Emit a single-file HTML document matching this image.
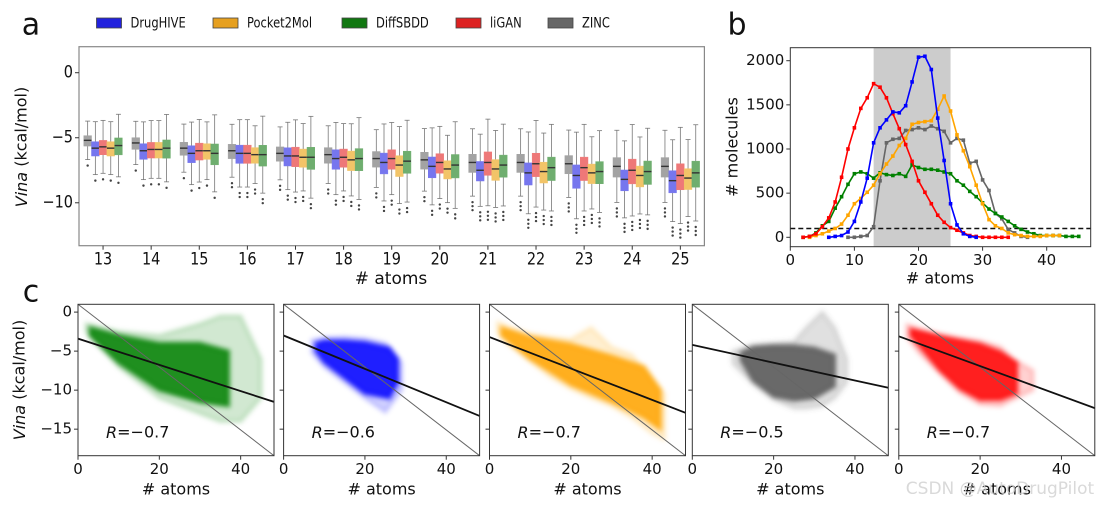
<!DOCTYPE html>
<html><head><meta charset="utf-8"><style>
html,body{margin:0;padding:0;background:#fff;}
svg{display:block;font-family:"DejaVu Sans","Liberation Sans",sans-serif;}
</style></head><body>
<svg id="fig" width="1109" height="506" viewBox="0 0 1109 506" xmlns="http://www.w3.org/2000/svg">
<defs><filter id="soft" x="-10%" y="-10%" width="120%" height="120%"><feGaussianBlur stdDeviation="2"/></filter></defs>
</svg>
<script>
// ---------- Panel a data ----------
const aGroups = [13,14,15,16,17,18,19,20,21,22,23,24,25];
const aSeriesNames = ["ZINC","DrugHIVE","liGAN","Pocket2Mol","DiffSBDD"];
const medZINC = [-5.2,-5.4,-5.8,-6.0,-6.2,-6.3,-6.6,-6.7,-6.9,-6.9,-7.0,-7.2,-7.2];
const medDrugHIVE = [-5.8,-6.0,-6.2,-6.2,-6.4,-6.6,-6.9,-7.2,-7.5,-7.7,-7.9,-8.2,-8.3];
const medLiGAN = [-5.7,-5.9,-6.0,-6.2,-6.4,-6.5,-6.6,-6.9,-6.9,-7.0,-7.3,-7.5,-7.9];
const medPocket2Mol = [-5.8,-5.9,-6.0,-6.3,-6.5,-6.7,-7.1,-7.4,-7.4,-7.6,-7.7,-7.9,-8.1];
const medDiffSBDD = [-5.6,-5.8,-6.2,-6.3,-6.5,-6.6,-6.8,-7.1,-7.1,-7.3,-7.6,-7.6,-7.7];
const iqrZINC = [0.8,0.9,1.0,1.1,1.1,1.2,1.2,1.3,1.4,1.4,1.4,1.5,1.5];
const iqrDrugHIVE = [1.1,1.2,1.3,1.4,1.4,1.5,1.6,1.6,1.5,1.7,1.8,1.6,1.7];
const iqrLiGAN = [1.1,1.2,1.3,1.4,1.5,1.4,1.5,1.5,1.8,1.8,1.8,1.9,2.0];
const iqrPocket2Mol = [1.1,1.2,1.2,1.2,1.4,1.5,1.6,1.4,1.6,1.6,1.5,1.6,1.6];
const iqrDiffSBDD = [1.3,1.4,1.6,1.6,1.7,1.7,1.7,1.8,1.7,1.8,1.7,1.8,2.0];
const aYTicks = [0,-5,-10];

// ---------- Panel b data ----------
const bRedX = [2,3,4,5,6,7,8,9,10,11,12,13,14,15,16,17,18,19,20,21,22,23,24,25,26,27,28,29,30,31,32,33,34];
const bRedY = [0,10,40,120,220,400,680,1000,1240,1460,1580,1740,1700,1580,1400,1230,1050,860,640,510,380,250,170,110,80,50,20,10,0,0,0,0,0];
const bBlueX = [6,7,8,9,10,11,12,13,14,15,16,17,18,19,20,21,22,23,24,25,26,27,28,29];
const bBlueY = [0,10,20,60,180,400,670,1070,1240,1330,1420,1410,1490,1760,2040,2050,1900,1350,870,380,140,40,10,0];
const bOrangeX = [3,4,5,6,7,8,9,10,11,12,13,14,15,16,17,18,19,20,21,22,23,24,25,26,27,28,29,30,31,32,33,34,35,36,37,38,39,40,41,42];
const bOrangeY = [0,20,40,70,100,150,250,380,440,510,590,720,830,920,1040,1120,1280,1300,1310,1320,1450,1600,1430,1160,980,800,590,380,200,130,100,50,30,20,10,10,10,20,20,20];
const bGrayX = [9,10,11,12,13,14,15,16,17,18,19,20,21,22,23,24,25,26,27,28,29,30,31,32,33,34,35,36,37];
const bGrayY = [0,0,10,20,120,640,1070,1110,1120,1210,1220,1240,1220,1260,1230,1200,1070,1120,1100,840,860,650,530,270,210,90,50,10,0];
const bGreenX = [2,3,4,5,6,7,8,9,10,11,12,13,14,15,16,17,18,19,20,21,22,23,24,25,26,27,28,29,30,31,32,33,34,35,36,37,38,39,40,41,42,43,44,45];
const bGreenY = [0,10,50,130,180,330,460,600,720,740,720,670,730,710,700,720,690,820,790,770,770,760,740,720,640,590,520,460,390,320,270,230,180,130,90,60,40,20,20,20,20,10,10,10];
const bXTicks = [0,10,20,30,40];
const bYTicks = [0,500,1000,1500,2000];
const bSpan = [13,25];
const bThreshold = 100;

// ---------- Panel c data ----------
const cNames = ["DiffSBDD","DrugHIVE","Pocket2Mol","ZINC","liGAN"];
const cR = ["−0.7","−0.6","−0.7","−0.5","−0.7"];
const cFitStart = [-3.4,-3.0,-3.2,-4.2,-3.1];
const cFitEnd = [-11.5,-13.3,-12.9,-9.7,-12.3];
const cXTicks = [0,20,40];
const cYTicks = [0,-5,-10,-15];
const cOuterX = [[2,10,20,30,35,40,45],[7,10,15,20,25,29],[2,5,10,15,20,25,30,35,40,43],[10,15,20,25,28,32,35,38],[2,5,10,15,20,25,28,33]];
const cOuterUp = [[-1.5,-2.5,-3,-1.5,-0.5,-0.5,-6],[-3.6,-3.3,-3.2,-3.4,-4,-6.5],[-1.3,-2,-2.8,-3.2,-3.5,-2,-4.5,-5.5,-8.5,-10.5],[-5,-4.2,-4,-3.8,-2,0,-2,-6],[-1.6,-2.1,-2.8,-3.3,-3.7,-4.5,-6,-7.5]];
const cOuterLo = [[-2.5,-7,-11,-13,-14,-14,-11],[-5.2,-7,-9,-11,-12.8,-10],[-2.6,-4.2,-6.3,-8.3,-9.8,-11,-12,-13.5,-15.5,-16.3],[-6.6,-9.2,-11.2,-12.3,-12.3,-12,-11,-9],[-3.1,-5.2,-7.8,-10.3,-11.8,-12,-11.2,-10]];
const cCoreX = [[3,10,20,30,37],[8,10,15,20,26,28],[3,10,20,30,38,42],[12,15,20,25,30,35],[3,10,15,20,25,29]];
const cCoreUp = [[-2,-3,-4,-4,-5],[-4,-3.7,-3.7,-3.9,-4.6,-6],[-2,-3.2,-4.1,-5.6,-7,-10],[-5.2,-4.5,-4.3,-4.3,-4.6,-5.5],[-2.2,-3.1,-3.6,-4.1,-5.1,-6.5]];
const cCoreLo = [[-3,-6.5,-10,-11.5,-12],[-5,-6.4,-8.4,-10.4,-11,-9],[-3,-6,-9.3,-11.5,-13.5,-15],[-6.2,-8.8,-10.8,-11.3,-11,-9.5],[-3,-7.4,-9.8,-11.2,-11.2,-10.4]];

const NS = "http://www.w3.org/2000/svg";
const svg = document.getElementById("fig");
function mk(tag, attrs, parent) {
  const e = document.createElementNS(NS, tag);
  for (const k in attrs) e.setAttribute(k, attrs[k]);
  (parent || svg).appendChild(e);
  return e;
}
function txt(s, x, y, size, anchor, parent, extra) {
  const t = mk("text", Object.assign({x:x, y:y, "font-size":size, "text-anchor":anchor||"middle", "dominant-baseline":"middle", fill:"#111"}, extra||{}), parent);
  t.textContent = s;
  return t;
}

// ================= Panel a =================
const A = {l:79, r:704.4, t:46.7, b:245.7, xmin:12.5, xmax:25.5, ymin:-13.3, ymax:2.0};
const ax = v => A.l + (v - A.xmin) / (A.xmax - A.xmin) * (A.r - A.l);
const ay = v => A.t + (A.ymax - v) / (A.ymax - A.ymin) * (A.b - A.t);
const gA = mk("g", {});


const pl = txt("a", 31, 26, 30, "middle", gA);



const aMeds = [medZINC, medDrugHIVE, medLiGAN, medPocket2Mol, medDiffSBDD];
const aIqrs = [iqrZINC, iqrDrugHIVE, iqrLiGAN, iqrPocket2Mol, iqrDiffSBDD];
const aFill = ["#a3a3a3","#7676ee","#ee7878","#f2c468","#6fae6f"];
const aOff = [-0.32,-0.16,0,0.16,0.32];
const bw = 0.16;
aGroups.forEach((g, gi) => {
  aMeds.forEach((meds, si) => {
    const m = meds[gi], iq = aIqrs[si][gi];
    const q3 = m + 0.45 * iq, q1 = m - 0.55 * iq;
    const wTop = q3 + 1.4 * iq, wBot = q1 - 1.3 * iq;
    const cx = g + aOff[si];
    const x0 = ax(cx - bw/2), x1 = ax(cx + bw/2), xc = ax(cx);
    const gb = mk("g", {}, gA);
    
    
    mk("line", {x1:xc, x2:xc, y1:ay(wTop), y2:ay(q3), stroke:"#777", "stroke-width":0.8}, gb);
    mk("line", {x1:xc, x2:xc, y1:ay(q1), y2:ay(wBot), stroke:"#777", "stroke-width":0.8}, gb);
    mk("line", {x1:xc-2.5, x2:xc+2.5, y1:ay(wTop), y2:ay(wTop), stroke:"#777", "stroke-width":0.8}, gb);
    mk("line", {x1:xc-2.5, x2:xc+2.5, y1:ay(wBot), y2:ay(wBot), stroke:"#777", "stroke-width":0.8}, gb);
    mk("rect", {x:x0, y:ay(q3), width:x1-x0, height:ay(q1)-ay(q3), fill:aFill[si], stroke:aFill[si], "stroke-width":0.5}, gb);
    mk("line", {x1:x0, x2:x1, y1:ay(m), y2:ay(m), stroke:"#333", "stroke-width":1.4}, gb);
    const n = 1 + Math.round((g - 13) / 5);
    for (let k = 0; k < n; k++) {
      mk("circle", {cx:xc, cy:ay(wBot) + 6 + k*4, r:1.2, fill:"#444"}, gb);
    }
  });
});
const aFrame = mk("rect", {x:A.l, y:A.t, width:A.r-A.l, height:A.b-A.t, fill:"none", stroke:"#888", "stroke-width":1.2}, gA);


aGroups.forEach(g => {
  mk("line", {x1:ax(g), x2:ax(g), y1:A.b, y2:A.b+4, stroke:"#333"}, gA);
  const t = txt(String(g), ax(g), A.b+14, 17, "middle", gA, {transform:"translate("+ax(g)+",0) scale(0.85,1) translate("+(-ax(g))+",0)"});
  
  
});
aYTicks.forEach(v => {
  mk("line", {x1:A.l-4, x2:A.l, y1:ay(v), y2:ay(v), stroke:"#333"}, gA);
  const t = txt(v === 0 ? "0" : "−" + Math.abs(v), A.l-6, ay(v), 17, "end", gA, {transform:"translate("+(A.l-6)+",0) scale(0.85,1) translate("+(-(A.l-6))+",0)"});
  
  
});
const axl = txt("# atoms", 391, 279, 17, "middle", gA);


const ayl = mk("text", {x:0, y:0, "font-size":16, "text-anchor":"middle", "dominant-baseline":"middle", fill:"#111", transform:"translate(22,147) rotate(-90)"}, gA);
ayl.innerHTML = '<tspan font-style="italic">Vina</tspan> (kcal/mol)';


const legNames = ["DrugHIVE","Pocket2Mol","DiffSBDD","liGAN","ZINC"];
const legColors = ["#2222dd","#e6a020","#117711","#dd2222","#666666"];
const legX = [96.5,213,342,456,548];
legNames.forEach((nm, i) => {
  const lg = mk("g", {}, gA);
  
  
  mk("rect", {x:legX[i], y:18, width:25, height:10, fill:legColors[i], stroke:"#444", "stroke-width":0.8}, lg);
  const tx = legX[i] + 34;
  txt(nm, tx, 23.5, 14, "start", lg, {transform:"translate("+tx+",0) scale(0.82,1) translate("+(-tx)+",0)"});
});

// ================= Panel b =================
const B = {l:790.3, r:1090.7, t:47.7, b:246.7};
const bx = v => B.l + v * (1046.7 - 790.3) / 40;
const by = v => 237.3 - v * (237.3 - 60.7) / 2000;
const gB = mk("g", {});


const blab = txt("b", 737, 26, 30, "middle", gB);


const span = mk("rect", {x:bx(bSpan[0]), y:B.t, width:bx(bSpan[1])-bx(bSpan[0]), height:B.b-B.t, fill:"#cccccc"}, gB);


const thr = mk("line", {x1:B.l, x2:B.r, y1:by(bThreshold), y2:by(bThreshold), stroke:"#111", "stroke-width":1.5, "stroke-dasharray":"5,3"}, gB);


const bSeries = [["ZINC",bGrayX,bGrayY,"#666666"],["DiffSBDD",bGreenX,bGreenY,"#008000"],["Pocket2Mol",bOrangeX,bOrangeY,"#ffa500"],["liGAN",bRedX,bRedY,"#ff0000"],["DrugHIVE",bBlueX,bBlueY,"#0000ff"]];
bSeries.forEach(s => {
  const g = mk("g", {}, gB);
  
  
  const pts = s[1].map((x, i) => bx(x).toFixed(1) + "," + by(s[2][i]).toFixed(1)).join(" ");
  mk("polyline", {points:pts, fill:"none", stroke:s[3], "stroke-width":1.6}, g);
  s[1].forEach((x, i) => {
    mk("rect", {x:bx(x)-1.8, y:by(s[2][i])-1.8, width:3.6, height:3.6, fill:s[3]}, g);
  });
});
const bFrame = mk("rect", {x:B.l, y:B.t, width:B.r-B.l, height:B.b-B.t, fill:"none", stroke:"#333", "stroke-width":1}, gB);


bXTicks.forEach(v => {
  mk("line", {x1:bx(v), x2:bx(v), y1:B.b, y2:B.b+4, stroke:"#333"}, gB);
  const t = txt(String(v), bx(v), B.b+14, 15, "middle", gB);
  
  
});
bYTicks.forEach(v => {
  mk("line", {x1:B.l-4, x2:B.l, y1:by(v), y2:by(v), stroke:"#333"}, gB);
  const t = txt(String(v), B.l-6, by(v), 15, "end", gB);
  
  
});
const bxl = txt("# atoms", 940, 279, 16, "middle", gB);


const byl = txt("# molecules", 0, 0, 16, "middle", gB, {transform:"translate(733,147) rotate(-90)"});



// ================= Panel c =================
const cColors = ["#008000","#0000ff","#ffa500","#555555","#ff0000"];
const cLefts = [78, 283.6, 489.5, 692.3, 898.8];
const CW = 196, CT = 304.3, CB = 455.7, CXMAX = 48.2, CYMAX = 1.0, CYMIN = -18.4;
const gC = mk("g", {});


const clab = txt("c", 31, 293, 30, "middle", gC);


cNames.forEach((nm, p) => {
  const L = cLefts[p];
  const cx = v => L + v / CXMAX * CW;
  const cy = v => CT + (CYMAX - v) / (CYMAX - CYMIN) * (CB - CT);
  const g = mk("g", {}, gC);
  
  
  const clipId = "clip" + p;
  const cp = mk("clipPath", {id:clipId}, g);
  mk("rect", {x:L, y:CT, width:CW, height:CB-CT}, cp);
  const inner = mk("g", {"clip-path":"url(#" + clipId + ")"}, g);
  const blurG = mk("g", {filter:"url(#soft)"}, inner);
  function env(xs, up, lo) {
    const a = xs.map((x, i) => cx(x).toFixed(1) + "," + cy(up[i]).toFixed(1));
    const b = xs.map((x, i) => cx(x).toFixed(1) + "," + cy(lo[i]).toFixed(1)).reverse();
    return a.concat(b).join(" ");
  }
  const outer = mk("polygon", {points:env(cOuterX[p], cOuterUp[p], cOuterLo[p]), fill:cColors[p], "fill-opacity":0.18, stroke:cColors[p], "stroke-opacity":0.12, "stroke-width":5, "stroke-linejoin":"round"}, blurG);
  
  
  const core = mk("polygon", {points:env(cCoreX[p], cCoreUp[p], cCoreLo[p]), fill:cColors[p], "fill-opacity":0.85, stroke:cColors[p], "stroke-opacity":0.45, "stroke-width":5, "stroke-linejoin":"round"}, blurG);
  
  
  const diag = mk("line", {x1:cx(0), y1:cy(1), x2:cx(CXMAX), y2:cy(CYMIN), stroke:"#666", "stroke-width":1}, inner);
  
  
  const fit = mk("line", {x1:cx(0), y1:cy(cFitStart[p]), x2:cx(CXMAX), y2:cy(cFitEnd[p]), stroke:"#111", "stroke-width":1.8}, inner);
  
  
  const fr = mk("rect", {x:L, y:CT, width:CW, height:CB-CT, fill:"none", stroke:"#333", "stroke-width":1}, g);
  
  
  const rt = mk("text", {x:L+28, y:433, "font-size":16, "dominant-baseline":"middle", fill:"#111"}, g);
  rt.innerHTML = '<tspan font-style="italic">R</tspan>=' + cR[p];
  
  
  cXTicks.forEach(v => {
    mk("line", {x1:cx(v), x2:cx(v), y1:CB, y2:CB+4, stroke:"#333"}, g);
    const t = txt(String(v), cx(v), CB+14, 15, "middle", g);
    
    
  });
  cYTicks.forEach(v => {
    mk("line", {x1:L-4, x2:L, y1:cy(v), y2:cy(v), stroke:"#333"}, g);
    if (p === 0) {
      const t = txt(v === 0 ? "0" : "−" + Math.abs(v), L-6, cy(v), 15, "end", g);
      
      
    }
  });
  const xl = txt("# atoms", L + CW/2, 490, 16, "middle", g);
  
  
});
const cyl = mk("text", {x:0, y:0, "font-size":16, "text-anchor":"middle", "dominant-baseline":"middle", fill:"#111", transform:"translate(20,380) rotate(-90)"}, gC);
cyl.innerHTML = '<tspan font-style="italic">Vina</tspan> (kcal/mol)';


const wm = txt("CSDN @AutoDrugPilot", 1000, 489, 17, "middle", svg, {fill:"#cfcfcf", "fill-opacity":0.8});


</script>
</body></html>
